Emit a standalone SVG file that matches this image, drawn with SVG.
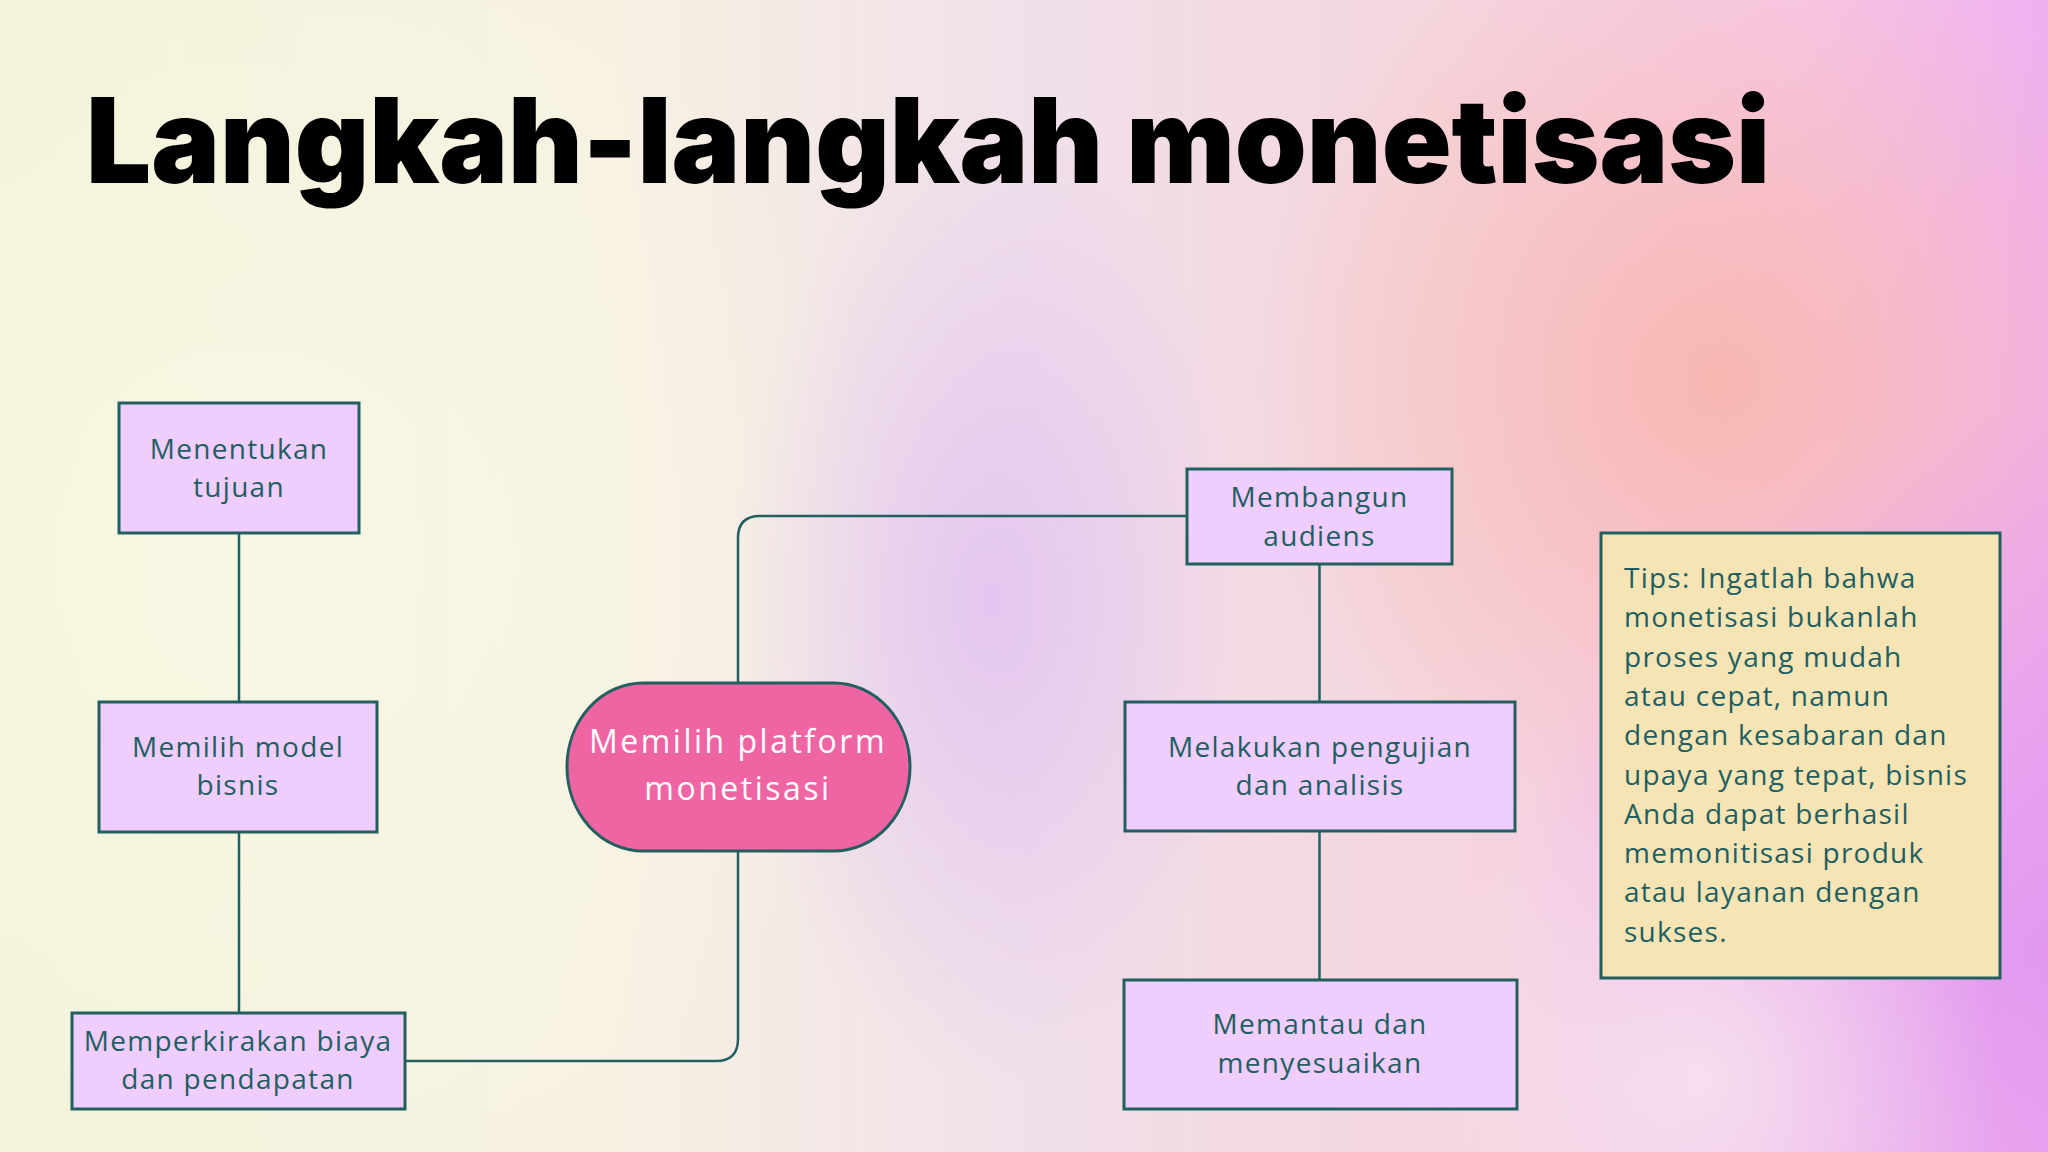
<svg xmlns="http://www.w3.org/2000/svg" width="2048" height="1152" viewBox="0 0 2048 1152">
<defs>
<linearGradient id="bg" x1="0" y1="0" x2="1" y2="0">
<stop offset="0" stop-color="#f2f3da"/>
<stop offset="0.3" stop-color="#f7f1e2"/>
<stop offset="0.5" stop-color="#f0e0ea"/>
<stop offset="0.7" stop-color="#f5d6de"/>
<stop offset="0.88" stop-color="#f6c8ea"/>
<stop offset="1" stop-color="#efb0f2"/>
</linearGradient>
<radialGradient id="peach" cx="1720" cy="380" r="480" gradientUnits="userSpaceOnUse">
<stop offset="0" stop-color="#f8b4a8" stop-opacity="0.85"/>
<stop offset="1" stop-color="#f8b4a8" stop-opacity="0"/>
</radialGradient>
<radialGradient id="lav" cx="0" cy="0" r="1" gradientTransform="translate(990 600) scale(260 480)" gradientUnits="userSpaceOnUse">
<stop offset="0" stop-color="#dfbdf2" stop-opacity="0.75"/>
<stop offset="1" stop-color="#dfbdf2" stop-opacity="0"/>
</radialGradient>
<radialGradient id="vio" cx="2048" cy="950" r="540" gradientUnits="userSpaceOnUse">
<stop offset="0" stop-color="#e096ee" stop-opacity="0.9"/>
<stop offset="1" stop-color="#e096ee" stop-opacity="0"/>
</radialGradient>
<radialGradient id="cream" cx="250" cy="560" r="650" gradientUnits="userSpaceOnUse">
<stop offset="0" stop-color="#f9f8e4" stop-opacity="0.9"/>
<stop offset="1" stop-color="#f9f8e4" stop-opacity="0"/>
</radialGradient>
<radialGradient id="pale" cx="1700" cy="1080" r="300" gradientUnits="userSpaceOnUse">
<stop offset="0" stop-color="#f7e6f0" stop-opacity="0.8"/>
<stop offset="1" stop-color="#f7e6f0" stop-opacity="0"/>
</radialGradient>
<style>
.box{fill:#efcdfc;stroke:#21605f;stroke-width:3}
.lbl{font-family:"Open Sans","Noto Sans",sans-serif;font-size:28px;letter-spacing:1.3px;fill:#1f5f62;text-anchor:middle}
.pl{fill:#fff;font-size:32px;letter-spacing:2.5px}
.tip{font-family:"Open Sans","Noto Sans",sans-serif;font-size:28px;letter-spacing:1.25px;fill:#1f5f62}
.conn{fill:none;stroke:#21605f;stroke-width:2.5}
.title{font-family:Inter,Roboto,"Liberation Sans",sans-serif;font-weight:900;font-size:118px;fill:#000}
</style>
</defs>
<rect width="2048" height="1152" fill="url(#bg)"/>
<rect width="2048" height="1152" fill="url(#cream)"/>
<rect width="2048" height="1152" fill="url(#lav)"/>
<rect width="2048" height="1152" fill="url(#peach)"/>
<rect width="2048" height="1152" fill="url(#vio)"/>
<rect width="2048" height="1152" fill="url(#pale)"/>

<text class="title" x="86" y="183" textLength="1684" lengthAdjust="spacingAndGlyphs">Langkah-langkah monetisasi</text>

<g id="connectors">
<line class="conn" x1="239" y1="533" x2="239" y2="702"/>
<line class="conn" x1="239" y1="832" x2="239" y2="1013"/>
<path class="conn" d="M405 1061 H716 Q738 1061 738 1039 V851"/>
<path class="conn" d="M738 683 V538 Q738 516 760 516 H1187"/>
<line class="conn" x1="1319.5" y1="564" x2="1319.5" y2="702"/>
<line class="conn" x1="1319.5" y1="831" x2="1319.5" y2="980"/>
</g>

<g id="n1">
<rect class="box" x="119" y="403" width="240" height="130"/>
<text class="lbl" x="239" y="459">Menentukan</text>
<text class="lbl" x="239" y="497">tujuan</text>
</g>
<g id="n2">
<rect class="box" x="99" y="702" width="278" height="130"/>
<text class="lbl" x="238" y="757">Memilih model</text>
<text class="lbl" x="238" y="795">bisnis</text>
</g>
<g id="n3">
<rect class="box" x="72" y="1013" width="333" height="96"/>
<text class="lbl" x="238" y="1051">Memperkirakan biaya</text>
<text class="lbl" x="238" y="1089">dan pendapatan</text>
</g>
<g id="n4">
<rect x="567" y="683" width="343" height="168" rx="76" ry="84" fill="#ef64a2" stroke="#21605f" stroke-width="3"/>
<text class="lbl pl" x="738" y="753">Memilih platform</text>
<text class="lbl pl" x="738" y="800">monetisasi</text>
</g>
<g id="n5">
<rect class="box" x="1187" y="469" width="265" height="95"/>
<text class="lbl" x="1319.5" y="507">Membangun</text>
<text class="lbl" x="1319.5" y="546">audiens</text>
</g>
<g id="n6">
<rect class="box" x="1125" y="702" width="390" height="129"/>
<text class="lbl" x="1320" y="757">Melakukan pengujian</text>
<text class="lbl" x="1320" y="795">dan analisis</text>
</g>
<g id="n7">
<rect class="box" x="1124" y="980" width="393" height="129"/>
<text class="lbl" x="1320" y="1034">Memantau dan</text>
<text class="lbl" x="1320" y="1073">menyesuaikan</text>
</g>
<g id="tips">
<rect x="1601" y="533" width="399" height="445" fill="#f6e4b4" stroke="#21605f" stroke-width="3"/>
<text class="tip" x="1624" y="588">Tips: Ingatlah bahwa</text>
<text class="tip" x="1624" y="627">monetisasi bukanlah</text>
<text class="tip" x="1624" y="667">proses yang mudah</text>
<text class="tip" x="1624" y="706">atau cepat, namun</text>
<text class="tip" x="1624" y="745">dengan kesabaran dan</text>
<text class="tip" x="1624" y="785">upaya yang tepat, bisnis</text>
<text class="tip" x="1624" y="824">Anda dapat berhasil</text>
<text class="tip" x="1624" y="863">memonitisasi produk</text>
<text class="tip" x="1624" y="902">atau layanan dengan</text>
<text class="tip" x="1624" y="942">sukses.</text>
</g>
</svg>
